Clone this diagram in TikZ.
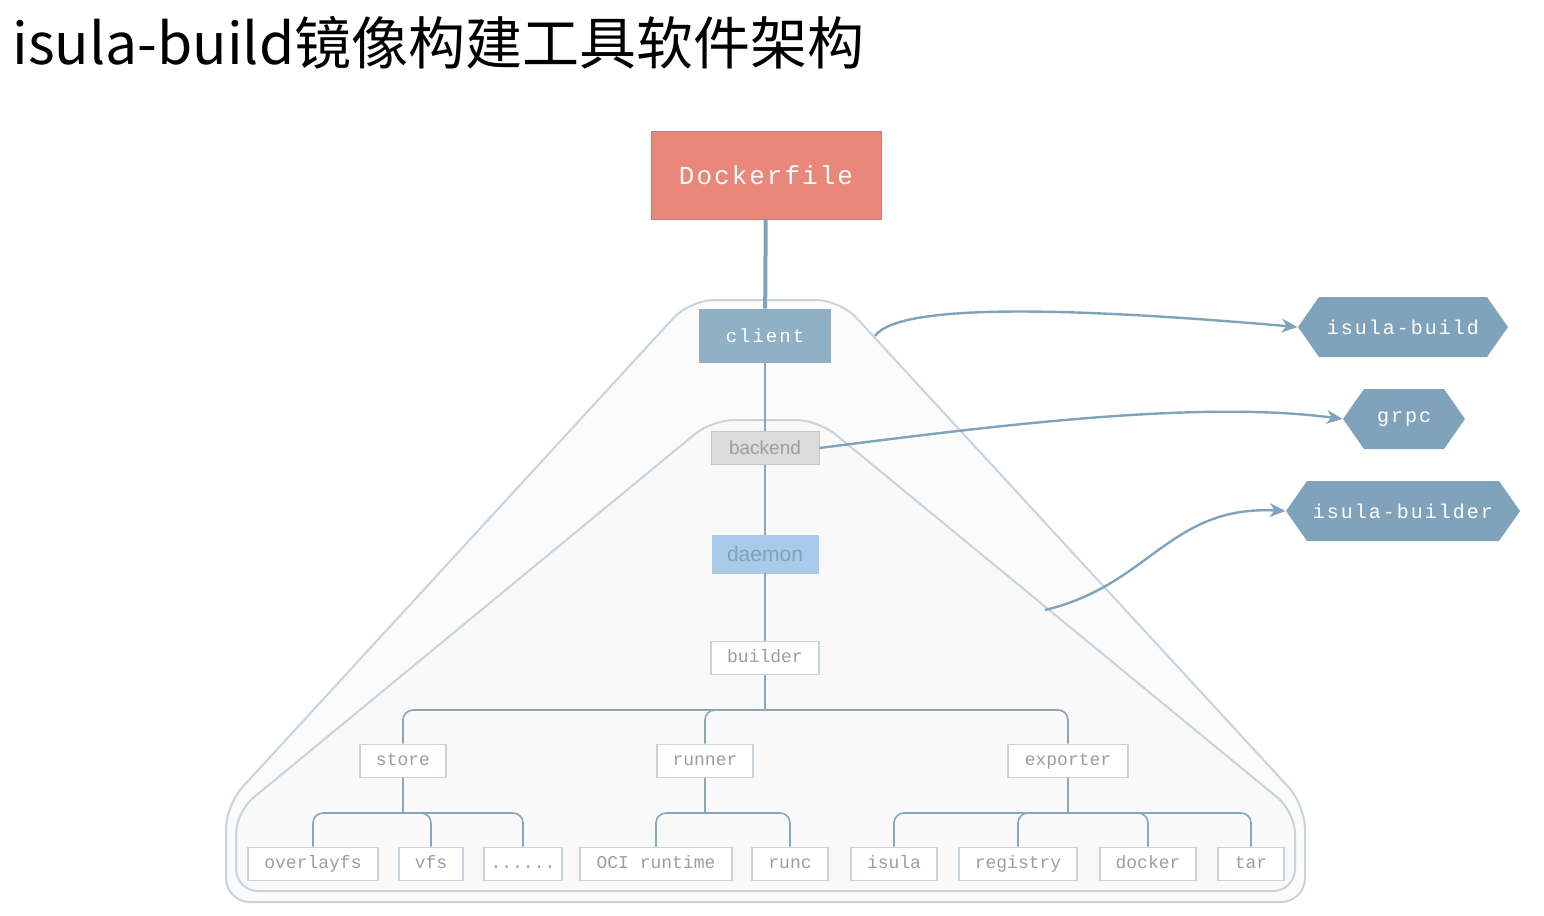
\documentclass[tikz,border=0pt]{standalone}
\usepackage{fontspec}
\setmainfont{Liberation Sans}
\newfontfamily\cjk{Noto Sans CJK SC}
\newfontfamily\mono{Liberation Mono}
\usetikzlibrary{shapes.symbols,arrows.meta}
\definecolor{steel}{HTML}{7FA3BB}
\definecolor{clientc}{HTML}{8FB0C5}
\definecolor{salmon}{HTML}{E8877A}
\definecolor{edge}{HTML}{8AA7B8}
\definecolor{frame}{HTML}{C9D3DA}
\definecolor{grayt}{HTML}{9A9FA3}
\definecolor{daemonc}{HTML}{A8CBEB}
\tikzset{
  leaf/.style={draw=frame, fill=white, thick, minimum height=16.5pt, text height=6.5pt, text depth=1.8pt,
    text=grayt, font=\mono\fontsize{9}{10}\selectfont},
  hexa/.style={shape=signal, signal to=east and west, signal pointer angle=110, fill=steel,
    text=white, minimum height=30pt, inner xsep=3pt, font=\mono\fontsize{10}{12}\selectfont},
  bus/.style={draw=edge, thick, rounded corners=5pt},
  link/.style={draw=steel, line width=1.2pt, -{Stealth[length=8pt,width=7pt]}}
}
\begin{document}
\begin{tikzpicture}[x=0.5pt,y=-0.5pt]
\useasboundingbox (0,0) rectangle (1544,916);
\node[anchor=base west, inner sep=0, font=\cjk\fontsize{28.5}{32}\selectfont] (title) at (12,64) {isula-build镜像构建工具软件架构};

% frames
\draw[frame, fill=black!1.5, line width=1pt, rounded corners=12pt]
  (690,300) -- (840,300) -- (1305,805) -- (1305,902) -- (226,902) -- (226,805) -- cycle;
\draw[frame, fill=black!2.5, line width=1pt, rounded corners=11pt]
  (712,420) -- (818,420) -- (1295,812) -- (1295,891) -- (236,891) -- (236,812) -- cycle;

% main column
\node[fill=salmon, draw=salmon!90!black, minimum width=115pt, minimum height=44pt, text=white,
  font=\mono\fontsize{13}{15}\selectfont] (docker0) at (766,175) {D\kern1pt o\kern1pt c\kern1pt k\kern1pt e\kern1pt r\kern1pt f\kern1pt i\kern1pt l\kern1pt e};
\node[fill=clientc, minimum width=66pt, minimum height=27pt, text=white,
  font=\mono\fontsize{9.5}{11}\selectfont] (client) at (765,336) {c\kern1pt l\kern1pt i\kern1pt e\kern1pt n\kern1pt t};
\node[fill=black!14, draw=black!22, minimum width=54pt, minimum height=16.5pt, text=grayt,
  font=\fontsize{9.5}{11}\selectfont] (backend) at (765,448) {backend};
\node[fill=daemonc, draw=steel!60, minimum width=53pt, minimum height=19pt, text=steel,
  font=\fontsize{10.5}{12}\selectfont] (daemon) at (765,554) {daemon};
\node[leaf, minimum width=54pt] (builder) at (765,658) {builder};

\node[leaf, minimum width=43pt] (store) at (403,761) {store};
\node[leaf, minimum width=48pt] (runner) at (705,761) {runner};
\node[leaf, minimum width=60pt] (exporter) at (1068,761) {exporter};

\node[leaf, minimum width=65pt] (overlayfs) at (313,864) {overlayfs};
\node[leaf, minimum width=32pt] (vfs) at (431,864) {vfs};
\node[leaf, minimum width=36pt] (dots) at (523,864) {......};
\node[leaf, minimum width=76pt] (oci) at (656,864) {OCI runtime};
\node[leaf, minimum width=38pt] (runc) at (790,864) {runc};
\node[leaf, minimum width=43pt] (isula) at (894,864) {isula};
\node[leaf, minimum width=59pt] (registry) at (1018,864) {registry};
\node[leaf, minimum width=48pt] (dockerx) at (1148,864) {docker};
\node[leaf, minimum width=33pt] (tar) at (1251,864) {tar};

\draw[steel, line width=2pt] (docker0) -- (client);
\draw[edge, thick] (client) -- (backend) -- (daemon) -- (builder);

% tree buses
\coordinate (b0) at (765,710);
\draw[edge, thick] (builder) -- (b0);
\draw[bus] (store.north) |- (b0) -| (exporter.north);
\draw[bus] (b0) -| (runner.north);
\coordinate (s0) at (403,813);
\draw[edge, thick] (store) -- (s0);
\draw[bus] (overlayfs.north) |- (s0) -| (dots.north);
\draw[bus] (s0) -| (vfs.north);
\coordinate (r0) at (705,813);
\draw[edge, thick] (runner) -- (r0);
\draw[bus] (oci.north) |- (r0) -| (runc.north);
\coordinate (e0) at (1068,813);
\draw[edge, thick] (exporter) -- (e0);
\draw[bus] (isula.north) |- (e0) -| (tar.north);
\draw[bus] (e0) -| (registry.north);
\draw[bus] (e0) -| (dockerx.north);

% external components
\node[hexa, minimum width=105pt] (ib) at (1403,327) {i\kern1pt s\kern1pt u\kern1pt l\kern1pt a\kern1pt -\kern1pt b\kern1pt u\kern1pt i\kern1pt l\kern1pt d};
\node[hexa, minimum width=61pt] (grpc) at (1404,419) {g\kern1pt r\kern1pt p\kern1pt c};
\node[hexa, minimum width=117pt] (ibr) at (1403,511) {i\kern1pt s\kern1pt u\kern1pt l\kern1pt a\kern1pt -\kern1pt b\kern1pt u\kern1pt i\kern1pt l\kern1pt d\kern1pt e\kern1pt r};

\coordinate (c1) at (875,336);
\coordinate (c2) at (1045,610);
\draw[link] (c1) .. controls (900,300) and (1100,310) .. (ib.west);
\draw[link] (backend.east) .. controls (1000,425) and (1200,400) .. (grpc.west);
\draw[link] (c2) .. controls (1150,585) and (1170,505) .. (ibr.west);
\end{tikzpicture}
\end{document}
